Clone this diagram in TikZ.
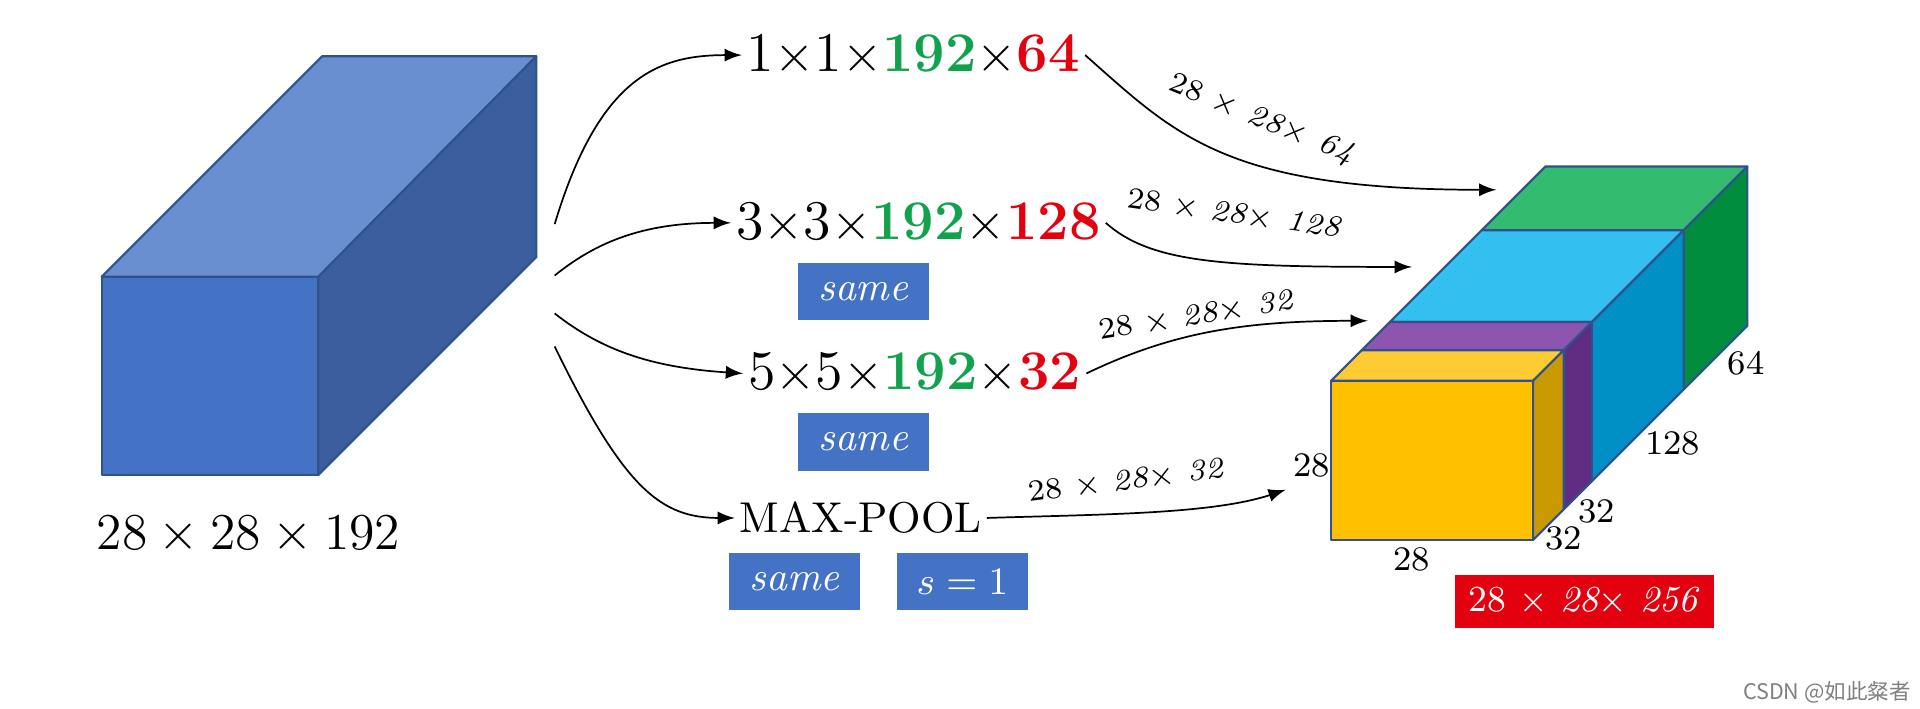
\documentclass[tikz,border=0pt]{standalone}
\usepackage{fontspec}
\newfontfamily\cjk{Noto Sans CJK SC}
\begin{document}
\begin{tikzpicture}[x=0.01cm,y=-0.01cm,
  arr/.style={-latex,thin,black},
  conv/.style={font=\fontsize{13}{13}\selectfont,inner sep=1pt},
  lbl/.style={font=\fontsize{7}{7}\selectfont,inner sep=1pt},
  dim/.style={font=\fontsize{8}{8}\selectfont,inner sep=1pt},
  tag/.style={fill=tagblue,text=white,font=\fontsize{9.5}{9.5}\selectfont\itshape,minimum width=1.07cm,minimum height=0.47cm,inner sep=0pt},
  face/.style={draw=edge,line width=0.5pt,line join=round}]
\definecolor{tagblue}{HTML}{4472C4}
\definecolor{edge}{HTML}{2F528F}
\definecolor{gr}{HTML}{12A24E}
\definecolor{rd}{HTML}{E3000F}
\definecolor{bfront}{HTML}{4472C4}
\definecolor{btop}{RGB}{106,143,208}
\definecolor{bside}{RGB}{58,94,158}
\definecolor{gtop}{RGB}{51,187,111}\definecolor{gside}{RGB}{0,142,62}
\definecolor{ctop}{RGB}{51,191,239}\definecolor{cside}{RGB}{0,144,198}
\definecolor{ptop}{RGB}{142,85,176}\definecolor{pside}{RGB}{95,44,130}
\definecolor{ytop}{RGB}{255,203,51}\definecolor{yside}{RGB}{200,154,0}
\definecolor{yfront}{RGB}{255,192,0}
\useasboundingbox (0,0) rectangle (1568,579);
% big cuboid
\draw[face,fill=bfront] (83,226) rectangle (260,388);
\draw[face,fill=btop] (83,226)--(263,46)--(438,46)--(260,226)--cycle;
\draw[face,fill=bside] (260,226)--(438,46)--(438,210)--(260,388)--cycle;
\node[font=\fontsize{11.5}{11.5}\selectfont] (in) at (203,437) {$28\times28\times192$};
% stack
\newcommand{\mylayer}[4]{%
  \draw[face,fill=#3] (1087+#1,311-#1)--(1087+#2,311-#2)--(1252+#2,311-#2)--(1252+#1,311-#1)--cycle;
  \draw[face,fill=#4] (1252+#1,311-#1)--(1252+#2,311-#2)--(1252+#2,441-#2)--(1252+#1,441-#1)--cycle;}
\mylayer{123}{175}{gtop}{gside}
\mylayer{48}{123}{ctop}{cside}
\mylayer{25}{48}{ptop}{pside}
\mylayer{0}{25}{ytop}{yside}
\draw[face,fill=yfront] (1087,311) rectangle (1252,441);
\node[dim] (d64) at (1426,297) {64};
\node[dim] (d128) at (1366,362) {128};
\node[dim] (d32a) at (1304,418) {32};
\node[dim] (d32b) at (1277,440) {32};
\node[dim] (d28a) at (1071,380) {28};
\node[dim] (d28b) at (1153,457) {28};
\node[fill=rd,text=white,minimum width=2.11cm,minimum height=0.43cm,inner sep=0pt,font=\fontsize{8.5}{8.5}\selectfont] (out) at (1294,491) {28 $\times$ \textit{28$\times$ 256}};
% conv labels
\node[conv] (c1) at (746,45) {1$\times$1$\times$\textbf{\color{gr}192}$\times$\textbf{\color{rd}64}};
\node[conv] (c3) at (750,182) {3$\times$3$\times$\textbf{\color{gr}192}$\times$\textbf{\color{rd}128}};
\node[conv] (c5) at (747,305) {5$\times$5$\times$\textbf{\color{gr}192}$\times$\textbf{\color{rd}32}};
\node[font=\fontsize{10}{10}\selectfont,inner sep=1pt] (mp) at (703,423) {MAX-POOL};
\node[tag] (s1) at (705,238) {same};
\node[tag] (s2) at (705,361) {same};
\node[tag] (s3) at (649,475) {same};
\node[tag,font=\fontsize{9.5}{9.5}\selectfont] (st) at (786,475) {$s=1$};
% arrows left
\coordinate (a1) at (453,183); \coordinate (a2) at (453,225);
\coordinate (a3) at (453,256); \coordinate (a4) at (453,283);
\draw[arr] (a1) .. controls (490,60) and (540,45) .. (c1.west);
\draw[arr] (a2) .. controls (490,195) and (530,182) .. (c3.west);
\draw[arr] (a3) .. controls (490,285) and (530,300) .. (c5.west);
\draw[arr] (a4) .. controls (510,400) and (540,423) .. (mp.west);
% arrows right
\coordinate (e1) at (1222,155); \coordinate (e2) at (1153,218);
\coordinate (e3) at (1117,262); \coordinate (e4) at (1050,400);
\draw[arr] (c1.east) .. controls (960,110) and (1000,155) .. (e1);
\draw[arr] (c3.east) .. controls (940,215) and (1000,218) .. (e2);
\draw[arr] (c5.east) .. controls (960,270) and (1020,262) .. (e3);
\draw[arr] (mp.east) .. controls (900,420) and (990,420) .. (e4);
\node[lbl,rotate=-22] (l1) at (1030,98) {28 $\times$ \textit{28$\times$ 64}};
\node[lbl,rotate=-8] (l2) at (1008,175) {28 $\times$ \textit{28$\times$ 128}};
\node[lbl,rotate=9] (l3) at (977,258) {28 $\times$ \textit{28$\times$ 32}};
\node[lbl,rotate=7] (l4) at (920,393) {28 $\times$ \textit{28$\times$ 32}};
\node[font=\cjk\fontsize{5}{5}\selectfont,text=gray] (wm) at (1492,565) {CSDN @如此粲者};
\end{tikzpicture}
\end{document}
